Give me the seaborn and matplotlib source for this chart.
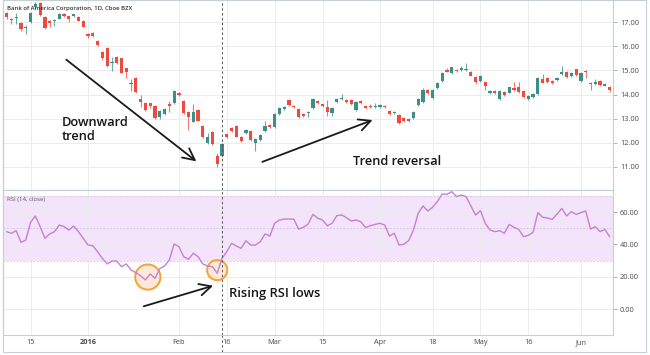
import matplotlib.pyplot as plt
import matplotlib.patches as mpatches
import numpy as np
import pandas as pd
import seaborn as sns

# BAC daily bars, 8 Dec 2015 - 9 Jun 2016 (NYSE holidays left out)
holidays = ['2015-12-25', '2016-01-01', '2016-01-18', '2016-02-15', '2016-03-25', '2016-05-30']
dates = pd.bdate_range('2015-12-08', '2016-06-09', freq='C', holidays=holidays)

opens = [17.41, 17.14, 17.19, 16.98, 16.78, 17.03, 17.65, 17.81, 17.21, 17.05, 17.05, 17.16, 17.34, 17.26, 17.27, 17.23, 17.05,
         16.50, 16.54, 16.24, 15.78, 15.94, 15.30, 15.57, 15.50, 15.09, 14.42,
         14.70, 13.80, 13.66, 13.63, 13.52, 13.05, 13.19, 13.62, 13.63, 14.08,
         13.74, 13.29, 12.87, 13.36, 12.70, 12.00, 12.46, 11.46, 11.45, 12.36,
         12.60, 12.70, 12.22, 12.39, 12.48, 12.00, 12.11, 12.48, 12.72, 12.64,
         13.19, 13.38, 13.77, 13.54, 13.38, 13.19, 13.22, 13.43, 13.73, 13.59,
         13.49, 13.25, 13.70, 13.81, 13.77, 13.77, 13.36, 13.74, 13.52, 13.52,
         13.47, 13.47, 13.52, 13.31, 13.22, 13.15, 13.04, 12.90, 13.01, 13.56,
         13.70, 14.19, 13.84, 14.26, 14.57, 15.02, 14.88, 15.02, 15.02, 15.02,
         14.92, 14.74, 14.57, 14.51, 14.08, 14.16, 13.81, 14.12, 14.08, 14.26,
         14.30, 14.16, 13.81, 13.88, 14.01, 14.63, 14.67, 14.56, 14.60, 14.84,
         14.95, 14.77, 15.05, 14.57, 14.99, 14.46, 14.42, 14.56, 14.37, 14.33]
closes = [17.21, 17.10, 17.23, 16.71, 16.82, 17.40, 17.76, 17.30, 16.75, 16.98, 17.09, 17.34, 17.27, 17.14, 17.33, 17.07, 16.82,
          16.43, 16.43, 16.06, 15.50, 15.18, 15.36, 15.30, 14.91, 14.95, 14.46,
          14.12, 13.70, 13.36, 13.52, 13.01, 13.33, 13.38, 13.54, 14.16, 13.99,
          13.22, 13.05, 13.29, 12.91, 12.25, 12.22, 11.94, 11.10, 11.94, 12.25,
          12.50, 12.25, 12.08, 12.53, 12.11, 12.14, 12.32, 12.69, 12.66, 13.19,
          13.43, 13.50, 13.56, 13.47, 13.05, 13.12, 13.26, 13.80, 13.63, 13.52,
          13.26, 13.43, 13.80, 13.87, 13.70, 13.61, 13.70, 13.63, 13.43, 13.47,
          13.52, 13.56, 13.47, 13.19, 13.26, 12.83, 12.90, 12.98, 13.29, 13.80,
          14.19, 14.08, 14.19, 14.46, 14.91, 14.95, 15.13, 14.98, 15.09, 15.05,
          14.78, 14.53, 14.77, 14.37, 14.16, 14.05, 14.14, 13.98, 14.30, 14.19,
          14.12, 13.88, 13.94, 14.02, 14.70, 14.49, 14.51, 14.46, 14.70, 14.95,
          14.71, 14.91, 14.81, 14.88, 14.95, 14.42, 14.51, 14.39, 14.44, 14.19]
highs = [17.45, 17.17, 17.37, 17.02, 16.90, 17.45, 17.85, 17.86, 17.25, 17.09, 17.16, 17.40, 17.38, 17.28, 17.36, 17.26, 17.08,
         16.55, 16.60, 16.28, 15.80, 15.96, 15.57, 15.62, 15.52, 15.12, 14.64,
         14.72, 13.98, 13.70, 13.66, 13.56, 13.36, 13.42, 13.74, 14.20, 14.12,
         13.76, 13.32, 13.62, 13.40, 12.73, 12.40, 12.50, 11.56, 11.98, 12.40,
         12.66, 12.74, 12.26, 12.56, 12.52, 12.18, 12.36, 12.90, 12.78, 13.22,
         13.47, 13.54, 13.82, 13.58, 13.42, 13.24, 13.32, 13.84, 13.78, 13.62,
         13.77, 13.47, 13.86, 14.04, 13.80, 13.80, 13.73, 13.77, 13.56, 13.62,
         13.63, 13.62, 13.58, 13.34, 13.30, 13.18, 13.08, 13.02, 13.32, 13.84,
         14.27, 14.23, 14.22, 14.50, 14.95, 15.12, 15.16, 15.06, 15.18, 15.30,
         14.96, 14.78, 14.80, 14.54, 14.20, 14.20, 14.17, 14.15, 14.33, 14.52,
         14.50, 14.20, 13.98, 14.06, 14.74, 14.84, 14.71, 14.60, 14.74, 15.18,
         14.99, 14.95, 15.08, 14.92, 15.01, 14.50, 14.66, 14.60, 14.48, 14.37]
lows = [17.16, 16.93, 16.93, 16.65, 16.50, 16.98, 17.55, 17.25, 16.72, 16.82, 16.86, 17.12, 17.24, 17.03, 17.24, 17.04, 16.80,
        16.35, 16.38, 16.00, 15.45, 15.15, 14.99, 15.25, 14.88, 14.67, 14.16,
        14.05, 13.50, 13.32, 13.46, 12.98, 13.00, 13.15, 13.26, 13.60, 13.95,
        13.20, 12.52, 12.84, 12.88, 12.20, 11.95, 11.90, 10.99, 11.40, 12.20,
        12.46, 12.22, 12.04, 12.34, 12.08, 11.66, 12.08, 12.44, 12.60, 12.60,
        13.15, 13.34, 13.52, 13.42, 13.02, 13.05, 13.05, 13.40, 13.60, 13.48,
        13.12, 13.10, 13.66, 13.77, 13.66, 13.58, 13.32, 13.59, 13.39, 13.44,
        13.44, 13.44, 13.44, 13.16, 13.19, 12.78, 12.87, 12.87, 12.98, 13.53,
        13.66, 14.02, 13.80, 14.23, 14.54, 14.92, 14.85, 14.93, 14.98, 14.99,
        14.75, 14.42, 14.53, 14.18, 14.04, 14.01, 13.78, 13.94, 14.05, 14.15,
        14.08, 13.85, 13.78, 13.85, 13.98, 14.46, 14.48, 14.42, 14.56, 14.80,
        14.68, 14.72, 14.78, 14.52, 14.70, 14.18, 14.38, 14.36, 14.34, 14.10]
rsi = [47.9, 46.9, 48.5, 41.3, 42.7, 53.7, 57.6, 51.0, 43.8, 46.5, 47.9, 52.0, 51.0, 48.9, 51.4, 47.9, 43.8,
       39.6, 39.2, 35.5, 31.4, 27.9, 29.7, 29.7, 26.2, 27.9, 24.2,
       22.5, 20.5, 18.0, 21.7, 19.0, 25.0, 26.6, 30.4, 40.3, 38.6,
       32.4, 30.8, 34.5, 32.4, 27.9, 26.6, 26.2, 22.1, 31.4, 35.5,
       40.7, 39.0, 37.6, 42.3, 39.6, 39.6, 41.7, 46.5, 45.2, 53.1,
       55.1, 55.7, 55.7, 55.7, 49.5, 50.6, 52.6, 58.6, 56.2, 55.1,
       51.6, 53.1, 57.8, 58.2, 56.6, 54.5, 55.1, 54.1, 50.4, 51.6,
       52.4, 53.1, 52.0, 45.2, 46.9, 39.6, 40.1, 42.3, 48.9, 59.3,
       63.8, 60.7, 63.0, 66.5, 71.2, 71.0, 72.7, 69.6, 70.6, 69.6,
       63.8, 58.2, 60.9, 53.1, 48.9, 47.9, 48.5, 46.9, 52.4, 50.6,
       49.3, 44.8, 45.6, 47.5, 59.7, 56.8, 56.4, 55.5, 58.8, 62.3,
       57.6, 60.3, 58.6, 59.7, 60.7, 49.5, 51.0, 47.9, 49.3, 44.8]

tick_dates = ['2015-12-15', '2016-01-04', '2016-02-01', '2016-02-16', '2016-03-01', '2016-03-15',
              '2016-04-01', '2016-04-18', '2016-05-02', '2016-05-16', '2016-06-01']
tick_labels = ['15', '2016', 'Feb', '16', 'Mar', '15', 'Apr', '18', 'May', '16', 'Jun']
marked_day = '2016-02-12'
rsi_low_days = ['2016-01-21', '2016-02-11']   # the two circled RSI lows
rsi_low_vals = [19.8, 24.1]

sns.set_theme(style='white')
plt.rcParams['font.family'] = ['Open Sans', 'DejaVu Sans']

df = pd.DataFrame({'date': dates, 'open': opens, 'high': highs, 'low': lows,
                   'close': closes, 'rsi': rsi})
df['i'] = np.arange(len(df))
df['up'] = df['close'] >= df['open']
pos = {d.strftime('%Y-%m-%d'): i for i, d in enumerate(df['date'])}

up_col, down_col = '#3b8f88', '#f04a3e'
grid_col = '#ececec'
edge_col = '#c3d1d5'
txt_col = '#4a4a4a'
note_col = '#151515'

fig = plt.figure(figsize=(6.5, 3.55), dpi=100)
ax1 = fig.add_axes([3/650, 1-190/355, 610/650, 190/355])
ax2 = fig.add_axes([3/650, 20/355, 610/650, 145/355], sharex=ax1)

# --- candles
colors = np.where(df['up'], up_col, down_col)
ax1.vlines(df['i'], df['low'], df['high'], colors=colors, lw=0.8, alpha=0.75, zorder=2)
body = (df['close'] - df['open']).abs().clip(lower=0.035)
ax1.bar(df['i'], body, bottom=df[['open', 'close']].min(axis=1), width=0.66,
        color=colors, linewidth=0, zorder=3)

ax1.set_ylim(10.03, 17.93)
ax1.set_yticks(np.arange(11, 18))
ax1.set_yticklabels([f'{v:.2f}' for v in range(11, 18)])

# --- RSI
ax2.axhspan(30, 70, color='#f3e4fc', lw=0, zorder=0)
for lvl in (30, 50, 70):
    ax2.axhline(lvl, color='#cfc3d8', lw=0.6, ls=(0, (2, 2)), zorder=1)
sns.lineplot(data=df, x='i', y='rsi', ax=ax2, color='#c77fd6', lw=1.0, zorder=3)
ax2.set_ylim(-16.1, 73.7)
ax2.set_yticks([0, 20, 40, 60])
ax2.set_yticklabels(['0.00', '20.00', '40.00', '60.00'])

ticks = [pos[d] for d in tick_dates]
for ax in (ax1, ax2):
    ax.set_xlim(-0.76, 126.7)
    ax.set_xticks(ticks)
    ax.grid(True, color=grid_col, lw=0.7)
    ax.set_axisbelow(True)
    ax.yaxis.tick_right()
    ax.tick_params(axis='y', length=3, width=0.6, color='#9aa7ab', pad=2,
                   labelsize=5.3, labelcolor=txt_col)
    ax.set_xlabel('')
    ax.set_ylabel('')
    for s in ax.spines.values():
        s.set_color(edge_col)
        s.set_linewidth(0.8)
    ax.axvline(pos[marked_day], color='#555555', lw=0.7, ls=(0, (2.5, 2.5)), zorder=4)
ax1.spines['top'].set_visible(False)
ax1.tick_params(axis='x', labelbottom=False, length=0)
ax2.set_xticklabels(tick_labels)
ax2.tick_params(axis='x', length=0, pad=3, labelsize=5.3, labelcolor=txt_col)
ax2.get_xticklabels()[1].set_fontweight('bold')
ax2.axvline(pos[marked_day], ymin=-0.12, ymax=0, color='#555555', lw=0.7,
            ls=(0, (2.5, 2.5)), clip_on=False)

# pane labels
ax1.text(0.007, 0.955, 'Bank of America Corporation, 1D, Cboe BZX', transform=ax1.transAxes,
         fontsize=4.3, color='#333333', fontweight='semibold', va='center')
ax2.text(0.007, 0.935, 'RSI (14, close)', transform=ax2.transAxes,
         fontsize=4.3, color='#555555', va='center')

# annotations
arrow = dict(arrowstyle='->,head_length=0.7,head_width=0.35', color='#1a1a1a', lw=1.3)
ax1.annotate('', xy=(pos['2016-02-05'] + 0.1, 11.15), xytext=(pos['2015-12-24'], 15.52), arrowprops=arrow)
ax1.annotate('', xy=(pos['2016-03-31'], 12.98), xytext=(pos['2016-02-25'] - 0.1, 11.16), arrowprops=arrow)
ax1.text(pos['2015-12-24'] - 0.4, 12.55, 'Downward\ntrend', fontsize=9.3, color=note_col,
         fontweight='semibold', va='center', ha='left', linespacing=1.1)
ax1.text(pos['2016-03-23'] + 0.4, 11.2, 'Trend reversal', fontsize=9.3, color=note_col,
         fontweight='semibold', va='center')

ax2.scatter([pos[rsi_low_days[0]] + 0.5, pos[rsi_low_days[1]]], rsi_low_vals, s=[330, 210],
            facecolor=(0.99, 0.86, 0.76, 0.6), edgecolor='#f5a236', linewidth=1.4, zorder=2)
ax2.annotate('', xy=(pos['2016-02-11'] - 0.3, 14.9), xytext=(pos['2016-01-20'] + 0.1, 1.2),
             arrowprops=arrow, annotation_clip=False)
ax2.text(pos['2016-02-16'] + 0.5, 9.9, 'Rising RSI lows', fontsize=9.3, color=note_col,
         fontweight='semibold', va='center')

# outer frame
fig.patches.append(mpatches.Rectangle((2.5/650, 3/355), 643/650, 352/355, transform=fig.transFigure,
                                      fill=False, edgecolor=edge_col, lw=0.8))

fig.savefig('out.png', dpi=100)
